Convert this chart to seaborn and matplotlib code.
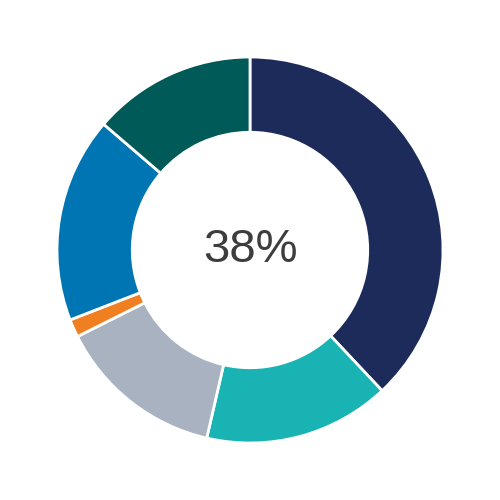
import matplotlib
matplotlib.use("Agg")
import matplotlib.pyplot as plt
import seaborn as sns

categories = ["Navy", "Teal", "Gray", "Orange", "Blue", "Dark green"]
values = [38, 15.6, 14.0, 1.5, 17.2, 13.7]
colors = ["#1c2b5a", "#1ab3b3", "#a9b2c1", "#f07f22", "#0075b4", "#005a57"]
center_label = "38%"

sns.set_theme(style="white")
plt.rcParams['font.family'] = ['Liberation Sans', 'DejaVu Sans']

fig = plt.figure(figsize=(5, 5), dpi=100)
ax = fig.add_axes([0, 0, 1, 1])
ax.pie(values, colors=sns.color_palette(colors), startangle=90, counterclock=False,
       radius=1, wedgeprops=dict(width=0.39, edgecolor="white", linewidth=2))
lim = 250 / 193
ax.set_xlim(-lim, lim)
ax.set_ylim(-lim, lim)
ax.set_aspect("equal")
ax.axis("off")
ax.text(0, 0, center_label, ha="center", va="center", fontsize=34, color="#3d3d3d")
fig.savefig("out.png", dpi=100)
